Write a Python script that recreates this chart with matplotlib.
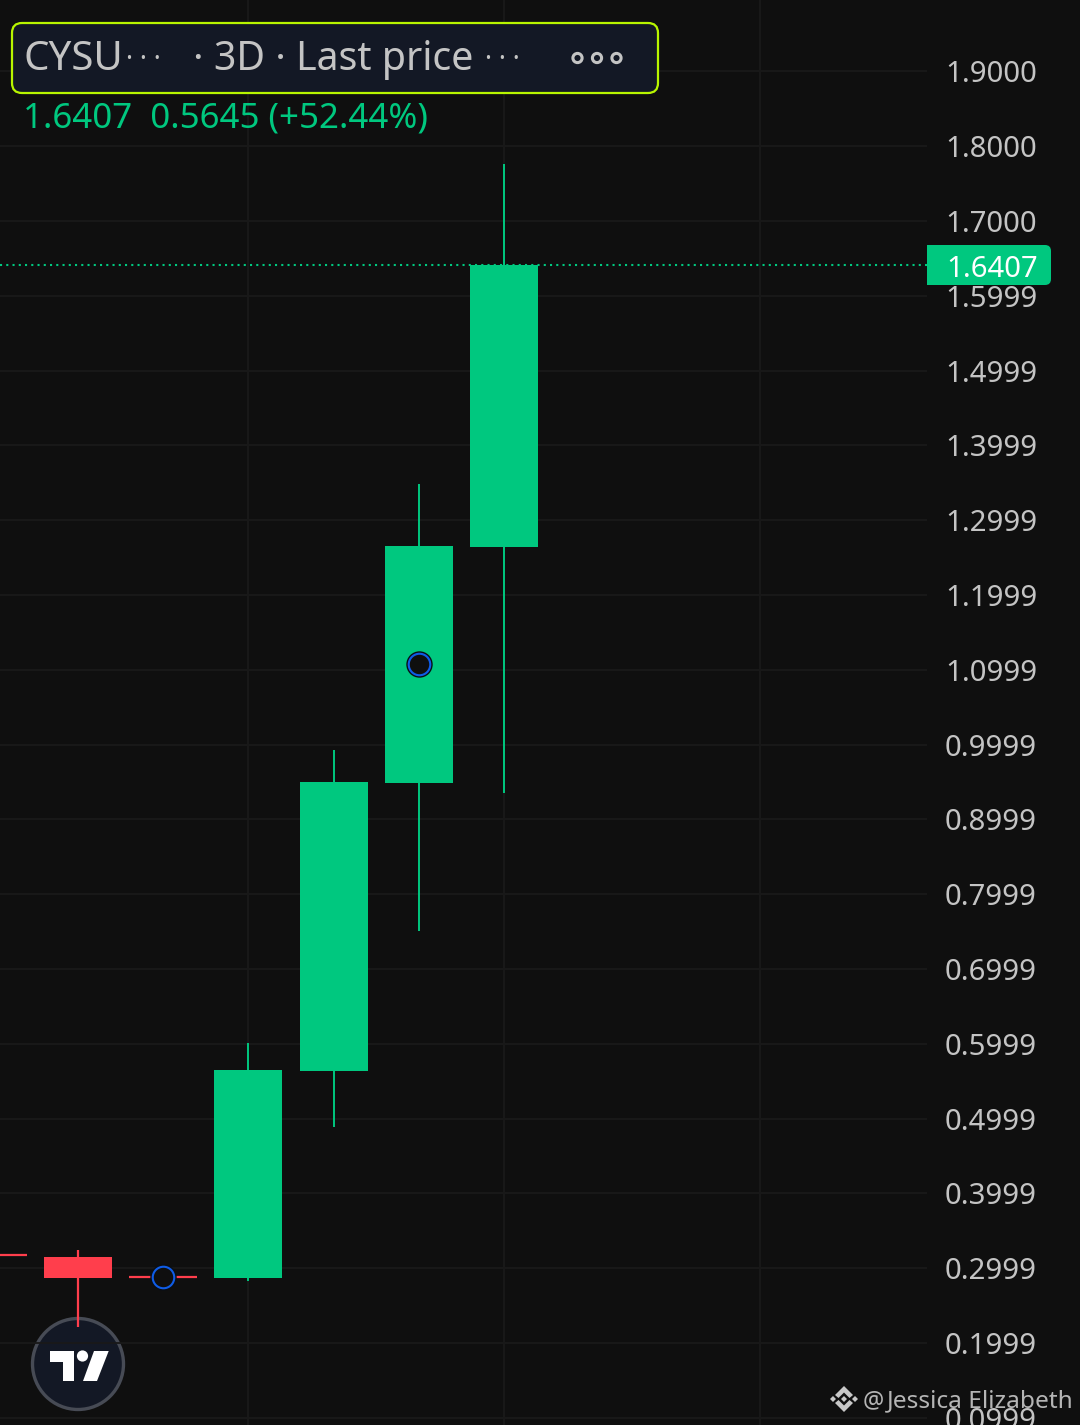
#!/usr/bin/python

import matplotlib
matplotlib.use('Agg')
import matplotlib.pyplot as plt
from matplotlib.patches import Circle, FancyBboxPatch, Polygon, Rectangle

plt.rcParams['font.family'] = ['Noto Sans', 'DejaVu Sans']

# candle data, index 0 is the red candle with the long wick
candle_idx = [-1, 0, 1, 2, 3, 4, 5]
opens = [0.3177, 0.3150, 0.2884, 0.2869, 0.5636, 0.9487, 1.2642]
closes = [0.3175, 0.2869, 0.2880, 0.5650, 0.9500, 1.2655, 1.6407]
highs = [0.3177, 0.3243, 0.2884, 0.6011, 0.9928, 1.3484, 1.7762]
lows = [0.3175, 0.2214, 0.2880, 0.2829, 0.4888, 0.7508, 0.9353]

marker_idx = [1, 4]
marker_prices = [0.2882, 1.1078]

tick_values = [1.9000, 1.8000, 1.7000, 1.5999, 1.4999, 1.3999, 1.2999, 1.1999,
               1.0999, 0.9999, 0.8999, 0.7999, 0.6999, 0.5999, 0.4999, 0.3999,
               0.2999, 0.1999, 0.0999]
tick_labels = ['%.4f' % v for v in tick_values]
vgrid_idx = [2, 5, 8]

last_price = 1.6407
last_text = '1.6407'
change_text = '1.6407  0.5645 (+52.44%)'

BG = '#0f0f0f'
GRID = '#191919'
GREEN = '#00c87f'
RED = '#ff3e4c'
BLUE = '#0f5ce6'
LABEL = '#c4c4c4'
PANEL = '#131825'

W, H = 1080, 1425
fig = plt.figure(figsize=(W / 100, H / 100), dpi=100, facecolor=BG)


def pixel_axes(zorder):
  a = fig.add_axes([0, 0, 1, 1], zorder=zorder)
  a.set_xlim(0, W)
  a.set_ylim(H, 0)
  a.axis('off')
  a.patch.set_alpha(0)
  return a


# logo sits under the candles, the wick runs over it
under = pixel_axes(0)
under.add_patch(Circle((78, 1364), 45.5, fc=PANEL, ec='#474b55', lw=2.4))
under.add_patch(Polygon([(50, 1351), (74, 1351), (74, 1381), (63, 1381), (63, 1362), (50, 1362)], fc='white', ec='none'))
under.add_patch(Circle((82.5, 1356), 5.6, fc='white', ec='none'))
under.add_patch(Polygon([(94, 1351), (108.7, 1351), (97, 1381), (83, 1381)], fc='white', ec='none'))

ax = fig.add_axes([0, 0, 927 / W, 1], zorder=1)
ax.patch.set_alpha(0)
ax.set_xlim(-78 / 85.2, (927 - 78) / 85.2)
ax.set_ylim(1.7 - (H - 221) / 748, 1.7 + 221 / 748)
for s in ax.spines.values():
  s.set_visible(False)

ax.yaxis.tick_right()
ax.set_yticks(tick_values)
ax.set_yticklabels(tick_labels, fontsize=21.1, color=LABEL)
ax.tick_params(axis='y', length=0, pad=13)
ax.set_xticks([])
ax.hlines(tick_values, 0, 1, transform=ax.get_yaxis_transform(), color=GRID, lw=1.3, zorder=1)
ax.vlines(vgrid_idx, 0, 1, transform=ax.get_xaxis_transform(), color=GRID, lw=1.3, zorder=1)

ax.axhline(last_price, color=GREEN, lw=1.5, ls=(0, (1, 2)), zorder=2)

for i, o, c, h, l in zip(candle_idx, opens, closes, highs, lows):
  col = GREEN if c >= o else RED
  ax.vlines(i, l, h, color=col, lw=1.4 if col == GREEN else 1.6, zorder=3)
  ax.bar(i, abs(c - o), bottom=min(o, c), width=0.798, color=col, lw=0, zorder=4)
  if abs(c - o) < 0.001:
    ax.hlines((o + c) / 2, i - 0.399, i + 0.399, color=col, lw=1.6, zorder=4)

ax.plot(marker_idx, marker_prices, ls='none', marker='o', ms=19, mfc='#0a0e14', mec='none', zorder=5)
ax.plot(marker_idx, marker_prices, ls='none', marker='o', ms=15.5, mfc=BG, mec=BLUE, mew=1.5, zorder=6)

# header, price tag and watermark go on top
top = pixel_axes(2)
top.add_patch(FancyBboxPatch((12, 23), 646, 70, boxstyle='round,pad=0,rounding_size=10', fc=PANEL, ec='#b8f500', lw=1.6))
top.text(24, 60, 'CYSU', fontsize=29, color=LABEL, va='center', ha='left')
top.text(126, 60, '· · ·', fontsize=19, color=LABEL, va='center', ha='left')
top.text(193, 60, '· 3D · Last price', fontsize=28.3, color=LABEL, va='center', ha='left')
top.text(485, 60, '· · ·', fontsize=19, color=LABEL, va='center', ha='left')
for cx in [577.5, 597, 616.5]:
  top.add_patch(Circle((cx, 58), 4.6, fc='none', ec=LABEL, lw=2.2))
top.text(23, 118, change_text, fontsize=25.1, color=GREEN, va='center', ha='left')

top.add_patch(FancyBboxPatch((927, 245), 124, 40, boxstyle='round,pad=0,rounding_size=6', fc=GREEN, ec='none'))
top.add_patch(Rectangle((927, 245), 20, 40, fc=GREEN, ec='none'))
top.text(946, 269, last_text, fontsize=21.1, color='white', va='center', ha='left')

WM = '#c8c8c8'
top.add_patch(Polygon([(844, 1386), (853, 1395), (849.5, 1398), (844, 1392.5), (838.5, 1398), (835, 1395)], fc=WM, ec='none'))
top.add_patch(Polygon([(844, 1412), (853, 1403), (849.5, 1400), (844, 1405.5), (838.5, 1400), (835, 1403)], fc=WM, ec='none'))
top.add_patch(Polygon([(833, 1396), (836, 1399), (833, 1402), (830, 1399)], fc=WM, ec='none'))
top.add_patch(Polygon([(855, 1396), (858, 1399), (855, 1402), (852, 1399)], fc=WM, ec='none'))
top.add_patch(Polygon([(844, 1396), (847, 1399), (844, 1402), (841, 1399)], fc=WM, ec='none'))
top.text(863, 1401, '@', fontsize=17, color=WM, va='center', ha='left', alpha=0.9)
top.text(887, 1401, 'Jessica Elizabeth', fontsize=17.6, color=WM, va='center', ha='left', alpha=0.9)

fig.savefig('out.png', dpi=100, facecolor=BG)
